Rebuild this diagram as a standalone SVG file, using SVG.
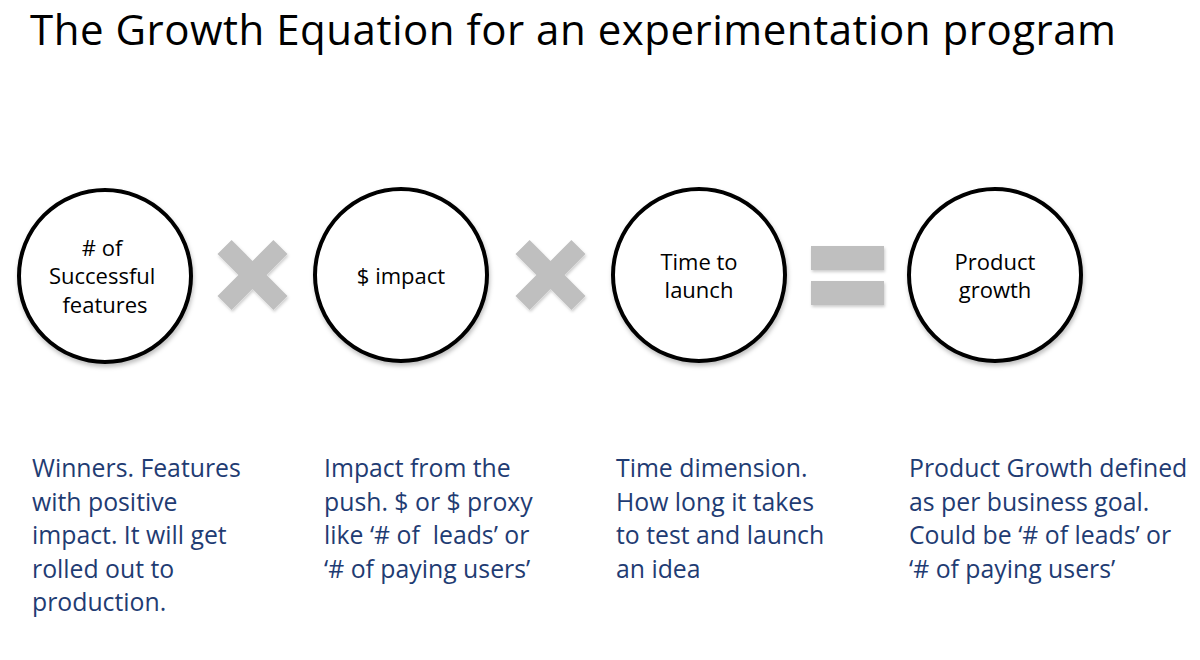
<svg xmlns="http://www.w3.org/2000/svg" width="1200" height="660" viewBox="0 0 1200 660">
  <defs>
    <filter id="sh" x="-20%" y="-20%" width="140%" height="150%">
      <feDropShadow dx="1" dy="3" stdDeviation="2" flood-color="#000" flood-opacity="0.25"/>
    </filter>
    <filter id="shg" x="-20%" y="-20%" width="150%" height="160%">
      <feDropShadow dx="1" dy="2" stdDeviation="1.5" flood-color="#000" flood-opacity="0.2"/>
    </filter>
    <polygon id="times" points="-35,-20.9 -20.9,-35 0,-14.1 20.9,-35 35,-20.9 14.1,0 35,20.9 20.9,35 0,14.1 -20.9,35 -35,20.9 -14.1,0"/>
  </defs>
  <style>
    .title { font-family: "Open Sans", "Liberation Sans", sans-serif; font-size: 42px; fill: #000; }
    .node circle { fill: #fff; stroke: #000; stroke-width: 4; filter: url(#sh); }
    .label { font-family: "Open Sans", "Liberation Sans", sans-serif; font-size: 22px; fill: #000; text-anchor: middle; }
    .desc { font-family: "Open Sans", "Liberation Sans", sans-serif; font-size: 24.8px; fill: #1F3C73; white-space: pre; }
    .op { fill: #BFBFBF; filter: url(#shg); }
  </style>
  <rect width="1200" height="660" fill="#fff"/>
  <text class="title" x="30" y="45" textLength="1086" lengthAdjust="spacing">The Growth Equation for an experimentation program</text>

  <g id="node-successful" class="node">
    <circle cx="105" cy="276" r="86"/>
    <text class="label">
      <tspan x="105" y="256"># of</tspan>
      <tspan x="105" y="284">Successful</tspan>
      <tspan x="105" y="313">features</tspan>
    </text>
  </g>
  <g id="node-impact" class="node">
    <circle cx="401" cy="275" r="86"/>
    <text class="label" x="401" y="284">$ impact</text>
  </g>
  <g id="node-time" class="node">
    <circle cx="699" cy="275" r="86"/>
    <text class="label"><tspan x="699" y="270">Time to</tspan><tspan x="699" y="298">launch</tspan></text>
  </g>
  <g id="node-growth" class="node">
    <circle cx="995" cy="275" r="86"/>
    <text class="label"><tspan x="995" y="270">Product</tspan><tspan x="995" y="298">growth</tspan></text>
  </g>

  <g id="connectors">
    <use href="#times" class="op" x="252.5" y="275"/>
    <use href="#times" class="op" x="550.5" y="275"/>
    <g class="op">
      <rect x="811" y="246" width="73" height="24"/>
      <rect x="811" y="281" width="73" height="24"/>
    </g>
  </g>

  <g id="desc-successful">
    <text class="desc"><tspan x="32" y="477">Winners. Features</tspan><tspan x="32" y="511">with positive</tspan><tspan x="32" y="544">impact. It will get</tspan><tspan x="32" y="578">rolled out to</tspan><tspan x="32" y="611">production.</tspan></text>
  </g>
  <g id="desc-impact">
    <text class="desc"><tspan x="324" y="477">Impact from the</tspan><tspan x="324" y="511">push. $ or $ proxy</tspan><tspan x="324" y="544">like ‘# of  leads’ or</tspan><tspan x="324" y="578">‘# of paying users’</tspan></text>
  </g>
  <g id="desc-time">
    <text class="desc"><tspan x="616" y="477">Time dimension.</tspan><tspan x="616" y="511">How long it takes</tspan><tspan x="616" y="544">to test and launch</tspan><tspan x="616" y="578">an idea</tspan></text>
  </g>
  <g id="desc-growth">
    <text class="desc"><tspan x="909" y="477">Product Growth defined</tspan><tspan x="909" y="511">as per business goal.</tspan><tspan x="909" y="544">Could be ‘# of leads’ or</tspan><tspan x="909" y="578">‘# of paying users’</tspan></text>
  </g>
</svg>
